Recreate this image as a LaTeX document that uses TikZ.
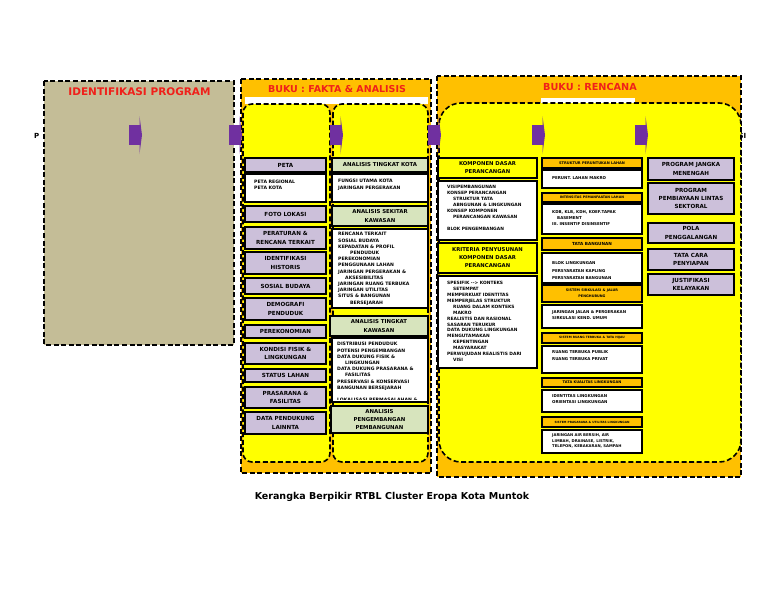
\documentclass[tikz,border=0pt]{standalone}
\usepackage{fontspec}
\setmainfont{DejaVu Sans}
\definecolor{tanc}{HTML}{C4BD97}
\definecolor{orng}{HTML}{FFC000}
\definecolor{ylw}{HTML}{FFFF00}
\definecolor{lavc}{HTML}{CCC0DA}
\definecolor{grnc}{HTML}{D7E4BD}
\definecolor{purp}{HTML}{7030A0}
\definecolor{ttl}{HTML}{F0201A}
\newcommand\fsz[2]{\fontsize{#1}{#2}\selectfont\bfseries}
\tikzset{
  outerbox/.style={draw=black, line width=1.6pt, dash pattern=on 5pt off 2.6pt},
  innerbox/.style={draw=black, line width=1.6pt, dash pattern=on 5pt off 2.6pt, fill=ylw},
  cell/.style={draw=black, line width=1.5pt, inner sep=0pt, align=center},
  lavcell/.style={cell, fill=lavc, font=\fsz{5.6}{8.3}},
  grncell/.style={cell, fill=grnc, font=\fsz{5.4}{8.3}},
  ylwcell/.style={cell, fill=ylw, font=\fsz{5.3}{8}},
  orgcell/.style={cell, fill=orng},
  whitecell/.style={cell, fill=white},
  content/.style={inner sep=0pt, align=left, anchor=north west},
  ftext/.style={content, font=\fsz{4.6}{6.2}},
  rtext/.style={content, font=\fsz{4.4}{5.9}},
  mtext/.style={content, font=\fsz{4}{6}},
  ttltext/.style={text=ttl, inner sep=0pt},
  pointer/.style={fill=purp},
}
\begin{document}
\begin{tikzpicture}[x=1pt,y=-1pt]
\useasboundingbox[fill=white] (0,0) rectangle (768,594);

% fragments of text partly hidden
\node[font=\fsz{7}{8}, anchor=west, inner sep=0pt] (pfrag) at (34,135.5) {P};
\node[font=\fsz{7}{8}, anchor=east, inner sep=0pt] (sifrag) at (746.5,136) {SI};

% ---------- IDENTIFIKASI PROGRAM ----------
\draw[outerbox, fill=tanc] (44,81) rectangle (234,345);
\node[ttltext, font=\fsz{10.5}{12}] (t1) at (139.5,92) {IDENTIFIKASI PROGRAM};

% ---------- BUKU : FAKTA & ANALISIS ----------
\draw[outerbox, fill=orng] (241,79) rectangle (431,473);
\node[ttltext, font=\fsz{9.5}{11}] (t2) at (337,89) {BUKU : FAKTA \& ANALISIS};
\fill[white] (245,97) rectangle (428,104);
\draw[innerbox, rounded corners=9] (243,104) rectangle (330,462);
\draw[innerbox, rounded corners=9] (333,104) rectangle (428,462);

% left column
\node[lavcell, minimum width=81, minimum height=14] (peta) at (285.5,165) {PETA};
\node[whitecell, minimum width=81, minimum height=28] (petaw) at (285.5,188) {};
\node[ftext] (petat) at (254,180) {PETA REGIONAL\\PETA KOTA};
\node[lavcell, minimum width=81, minimum height=16] (foto) at (285.5,214) {FOTO LOKASI};
\node[lavcell, minimum width=81, minimum height=22] (perat) at (285.5,238) {PERATURAN \&\\RENCANA TERKAIT};
\node[lavcell, minimum width=81, minimum height=22] (ident) at (285.5,263) {IDENTIFIKASI\\HISTORIS};
\node[lavcell, minimum width=81, minimum height=16] (sosbud) at (285.5,286) {SOSIAL BUDAYA};
\node[lavcell, minimum width=81, minimum height=22] (demo) at (285.5,309) {DEMOGRAFI\\PENDUDUK};
\node[lavcell, minimum width=81, minimum height=13] (ekon) at (285.5,331.5) {PEREKONOMIAN};
\node[lavcell, minimum width=81, minimum height=21] (fisik) at (285.5,353.5) {KONDISI FISIK \&\\LINGKUNGAN};
\node[lavcell, minimum width=81, minimum height=13] (lahan) at (285.5,375.5) {STATUS LAHAN};
\node[lavcell, minimum width=81, minimum height=21] (pras) at (285.5,397.5) {PRASARANA \&\\FASILITAS};
\node[lavcell, minimum width=81, minimum height=22] (dpl) at (285.5,423) {DATA PENDUKUNG\\LAINNTA};

% right column
\node[grncell, minimum width=96, minimum height=14] (atk) at (380,165) {ANALISIS TINGKAT KOTA};
\node[whitecell, minimum width=96, minimum height=28] (atkw) at (380,188) {};
\node[ftext] (atkt) at (338,179.3) {FUNGSI UTAMA KOTA\\JARINGAN PERGERAKAN};
\node[grncell, minimum width=96, minimum height=20] (ask) at (380,216) {ANALISIS SEKITAR\\KAWASAN};
\node[whitecell, minimum width=96, minimum height=79] (askw) at (380,268.5) {};
\node[ftext] (askt) at (338,232.3) {RENCANA TERKAIT\\SOSIAL BUDAYA\\KEPADATAN \& PROFIL\\\hspace*{12pt}PENDUDUK\\PEREKONOMIAN\\PENGGUNAAN LAHAN\\JARINGAN PERGERAKAN \&\\\hspace*{7pt}AKSESIBILITAS\\JARINGAN RUANG TERBUKA\\JARINGAN UTILITAS\\SITUS \& BANGUNAN\\\hspace*{12pt}BERSEJARAH};
\node[grncell, minimum width=98, minimum height=20] (atkaw) at (379,326) {ANALISIS TINGKAT\\KAWASAN};
\node[whitecell, minimum width=96, minimum height=64] (atkaww) at (380,370) {};
\begin{scope}
  \clip (333,339) rectangle (427,399.5);
  \node[ftext] (atkawt) at (337,342.3) {DISTRIBUSI PENDUDUK\\POTENSI PENGEMBANGAN\\DATA DUKUNG FISIK \&\\\hspace*{8pt}LINGKUNGAN\\DATA DUKUNG PRASARANA \&\\\hspace*{8pt}FASILITAS\\PRESERVASI \& KONSERVASI\\BANGUNAN BERSEJARAH\\[6pt]LOKALISASI PERMASALAHAN \&};
\end{scope}
\node[grncell, minimum width=97, minimum height=27] (apb) at (379.5,419.5) {ANALISIS\\PENGEMBANGAN\\PEMBANGUNAN};

% ---------- BUKU : RENCANA ----------
\draw[outerbox, fill=orng] (437,76) rectangle (741,477);
\node[ttltext, font=\fsz{9.7}{11}] (t3) at (590,87) {BUKU : RENCANA};
\fill[white] (541,97.5) rectangle (635,103);
\draw[innerbox, rounded corners=22] (439,103) rectangle (741,462);

% left column
\node[ylwcell, minimum width=99, minimum height=20] (kdp) at (487.5,168) {KOMPONEN DASAR\\PERANCANGAN};
\node[whitecell, minimum width=99, minimum height=59] (kdpw) at (487.5,210.5) {};
\node[rtext] (kdpt) at (447,185.3) {VISIPEMBANGUNAN\\KONSEP PERANCANGAN\\\hspace*{6pt}STRUKTUR TATA\\\hspace*{6pt}ABNGUNAN \& LINGKUNGAN\\KONSEP KOMPONEN\\\hspace*{6pt}PERANCANGAN KAWASAN\\[6pt]BLOK PENGEMBANGAN};
\node[ylwcell, minimum width=99, minimum height=30] (kpk) at (487.5,258) {KRITERIA PENYUSUNAN\\KOMPONEN DASAR\\PERANCANGAN};
\node[whitecell, minimum width=99, minimum height=92] (kpkw) at (487.5,322) {};
\node[rtext] (kpkt) at (447,281.3) {SPESIFIK {-}{-}> KONTEKS\\\hspace*{6pt}SETEMPAT\\MEMPERKUAT IDENTITAS\\MEMPERJELAS STRUKTUR\\\hspace*{6pt}RUANG DALAM KONTEKS\\\hspace*{6pt}MAKRO\\REALISTIS DAN RASIONAL\\SASARAN TERUKUR\\DATA DUKUNG LINGKUNGAN\\MENGUTAMAKAN\\\hspace*{6pt}KEPENTINGAN\\\hspace*{6pt}MASYARAKAT\\PERWUJUDAN REALISTIS DARI\\\hspace*{6pt}VISI};

% middle column
\node[orgcell, minimum width=100, minimum height=10, font=\fsz{3.6}{4}] (h1) at (592,163) {STRUKTUR PERUNTUKAN LAHAN};
\node[whitecell, minimum width=100, minimum height=18] (w1) at (592,179) {};
\node[mtext] (w1t) at (552,176.5) {PERUNT. LAHAN MAKRO};
\node[orgcell, minimum width=100, minimum height=9, font=\fsz{3.3}{4}] (h2) at (592,197.5) {INTENSITAS PEMANFAATAN LAHAN};
\node[whitecell, minimum width=100, minimum height=30] (w2) at (592,219) {};
\node[mtext] (w2t) at (552,210.5) {KDB, KLB, KDH, KOEF.TAPAK\\\hspace*{5pt}BASEMENT\\III. INSENTIF DISINSENTIF};
\node[orgcell, minimum width=100, minimum height=12, font=\fsz{4.2}{5}] (h3) at (592,244) {TATA BANGUNAN};
\node[whitecell, minimum width=100, minimum height=30] (w3) at (592,268) {};
\node[mtext, font=\fsz{4}{7.4}] (w3t) at (552,261.5) {BLOK LINGKUNGAN\\PERSYARATAN KAPLING\\PERSYARATAN BANGUNAN};
\node[orgcell, minimum width=100, minimum height=17, font=\fsz{3.4}{6}] (h4) at (592,293.5) {SISTEM SIRKULASI \& JALUR\\PENGHUBUNG};
\node[whitecell, minimum width=100, minimum height=23] (w4) at (592,316.5) {};
\node[mtext] (w4t) at (552,310.5) {JARINGAN JALAN \& PERGERAKAN\\SIRKULASI KEND. UMUM};
\node[orgcell, minimum width=100, minimum height=10, font=\fsz{3}{4}] (h5) at (592,338) {SISTEM RUANG TERBUKA \& TATA HIJAU};
\node[whitecell, minimum width=100, minimum height=27] (w5) at (592,359.5) {};
\node[mtext, font=\fsz{4}{7}] (w5t) at (552,350.5) {RUANG TERBUKA PUBLIK\\RUANG TERBUKA PRIVAT};
\node[orgcell, minimum width=100, minimum height=9, font=\fsz{3.6}{4}] (h6) at (592,382.5) {TATA KUALITAS LINGKUNGAN};
\node[whitecell, minimum width=100, minimum height=22] (w6) at (592,401) {};
\node[mtext, font=\fsz{4}{5.6}] (w6t) at (552,394.5) {IDENTITAS LINGKUNGAN\\ORIENTASI LINGKUNGAN};
\node[orgcell, minimum width=100, minimum height=10, font=\fsz{2.9}{4}] (h7) at (592,422) {SISTEM PRASARANA \& UTILITAS LINGKUNGAN};
\node[whitecell, minimum width=100, minimum height=23] (w7) at (592,441.5) {};
\node[mtext, font=\fsz{3.8}{5.6}] (w7t) at (552,433.5) {JARINGAN AIR BERSIH, AIR\\LIMBAH, DRAINASE, LISTRIK,\\TELEPON, KEBAKARAN, SAMPAH};

% right column
\node[lavcell, minimum width=86, minimum height=22] (pjm) at (691,169) {PROGRAM JANGKA\\MENENGAH};
\node[lavcell, minimum width=86, minimum height=31] (ppl) at (691,198.5) {PROGRAM\\PEMBIAYAAN LINTAS\\SEKTORAL};
\node[lavcell, minimum width=86, minimum height=20] (pola) at (691,233) {POLA\\PENGGALANGAN};
\node[lavcell, minimum width=86, minimum height=21] (tcp) at (691,259.5) {TATA CARA\\PENYIAPAN};
\node[lavcell, minimum width=86, minimum height=21] (jk) at (691,284.5) {JUSTIFIKASI\\KELAYAKAN};

% ---------- purple arrows ----------
\foreach \ax in {129,229,330,428,532,635}{
  \fill[pointer] (\ax,125) rectangle (\ax+11,145);
  \fill[pointer] (\ax+10.5,116) -- (\ax+13,135) -- (\ax+10.5,154) -- cycle;
}

% ---------- caption ----------
\node[font=\fsz{9.5}{11}, inner sep=0pt] (cap) at (392,497) {Kerangka Berpikir RTBL Cluster Eropa Kota Muntok};
\end{tikzpicture}
\end{document}
